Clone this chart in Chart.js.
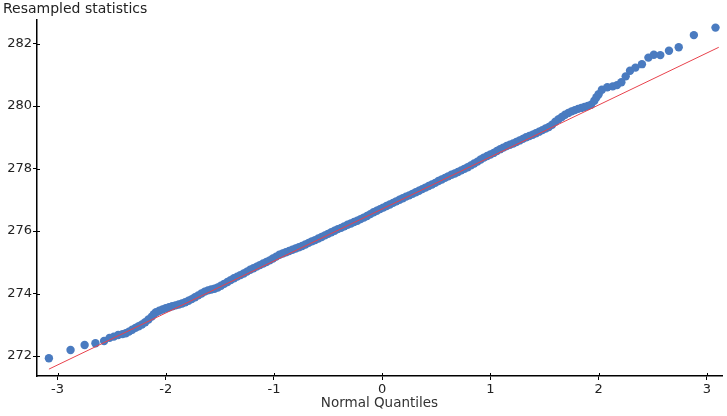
<!DOCTYPE html>
<html>
<head>
<meta charset="utf-8">
<script src="https://cdn.jsdelivr.net/npm/chart.js@4"></script>
<style>
  html, body { margin: 0; padding: 0; background: #fff; }
  canvas { display: block; }
</style>
</head>
<body>
<canvas id="qq" width="727" height="416"></canvas>
<script>
// cuantiles normales teóricos (eje x)
const quantiles = [
  -3.08, -2.88, -2.75, -2.65, -2.57, -2.52, -2.48, -2.44, -2.40, -2.37,
  -2.34, -2.31, -2.28, -2.25, -2.22, -2.19, -2.16, -2.13, -2.11, -2.09,
  -2.06, -2.03, -2.00, -1.97, -1.94, -1.91, -1.88, -1.85, -1.82, -1.79,
  -1.76, -1.73, -1.70, -1.67, -1.64, -1.61, -1.58, -1.55, -1.52, -1.49,
  -1.46, -1.43, -1.40, -1.37, -1.34, -1.31, -1.28, -1.25, -1.22, -1.19,
  -1.16, -1.13, -1.10, -1.07, -1.04, -1.01, -0.98, -0.95, -0.92, -0.89,
  -0.86, -0.83, -0.80, -0.77, -0.74, -0.71, -0.68, -0.65, -0.62, -0.59,
  -0.56, -0.53, -0.50, -0.47, -0.44, -0.41, -0.38, -0.35, -0.32, -0.29,
  -0.26, -0.23, -0.20, -0.17, -0.14, -0.11, -0.08, -0.05, -0.02, 0.01,
  0.04, 0.07, 0.10, 0.13, 0.16, 0.19, 0.22, 0.25, 0.28, 0.31,
  0.34, 0.37, 0.40, 0.43, 0.46, 0.49, 0.52, 0.55, 0.58, 0.61,
  0.64, 0.67, 0.70, 0.73, 0.76, 0.79, 0.82, 0.85, 0.88, 0.91,
  0.94, 0.97, 1.00, 1.03, 1.06, 1.09, 1.12, 1.15, 1.18, 1.21,
  1.24, 1.27, 1.30, 1.33, 1.36, 1.39, 1.42, 1.45, 1.48, 1.51,
  1.54, 1.57, 1.60, 1.63, 1.66, 1.69, 1.72, 1.75, 1.78, 1.81,
  1.84, 1.87, 1.90, 1.93, 1.96, 1.98, 2.00, 2.03, 2.08, 2.13,
  2.17, 2.21, 2.25, 2.29, 2.34, 2.40, 2.46, 2.51, 2.57, 2.65,
  2.74, 2.88, 3.08
];

// estadísticos remuestreados ordenados (eje y)
const resampled = [
  271.93, 272.19, 272.35, 272.41, 272.48, 272.58, 272.62, 272.67, 272.70, 272.73,
  272.78, 272.84, 272.90, 272.95, 273.01, 273.08, 273.17, 273.26, 273.34, 273.40,
  273.45, 273.49, 273.53, 273.56, 273.59, 273.62, 273.65, 273.68, 273.72, 273.77,
  273.82, 273.88, 273.94, 274.00, 274.06, 274.10, 274.13, 274.15, 274.19, 274.25,
  274.31, 274.37, 274.43, 274.49, 274.54, 274.59, 274.64, 274.70, 274.76, 274.81,
  274.86, 274.91, 274.96, 275.01, 275.06, 275.12, 275.18, 275.24, 275.28, 275.32,
  275.36, 275.40, 275.44, 275.48, 275.52, 275.57, 275.62, 275.67, 275.71, 275.76,
  275.81, 275.86, 275.91, 275.96, 276.01, 276.06, 276.10, 276.15, 276.20, 276.24,
  276.29, 276.33, 276.38, 276.43, 276.48, 276.54, 276.60, 276.65, 276.70, 276.75,
  276.80, 276.85, 276.90, 276.95, 277.00, 277.05, 277.10, 277.14, 277.19, 277.24,
  277.29, 277.34, 277.39, 277.44, 277.49, 277.54, 277.60, 277.65, 277.70, 277.75,
  277.80, 277.84, 277.89, 277.94, 277.99, 278.04, 278.10, 278.16, 278.22, 278.29,
  278.35, 278.40, 278.45, 278.50, 278.56, 278.62, 278.67, 278.72, 278.76, 278.80,
  278.85, 278.90, 278.95, 279.00, 279.04, 279.08, 279.13, 279.18, 279.23, 279.28,
  279.33, 279.40, 279.50, 279.58, 279.65, 279.72, 279.78, 279.83, 279.87, 279.91,
  279.94, 279.97, 280.00, 280.04, 280.17, 280.28, 280.38, 280.52, 280.60, 280.63,
  280.67, 280.76, 280.95, 281.13, 281.23, 281.34, 281.55, 281.64, 281.63, 281.77,
  281.88, 282.27, 282.51
];

// recta de referencia (extremos)
const fitX = [-3.08, 3.11];
const fitY = [271.58, 281.88];

// marcas de los ejes
const xTicks = [-3, -2, -1, 0, 1, 2, 3];
const yTicks = [272, 274, 276, 278, 280, 282];

const fuente = 'DejaVu Sans, Verdana, sans-serif';

const puntos = quantiles.map(function(q, i) {
    return { x: q, y: resampled[i] };
});
const recta = fitX.map(function(q, i) {
    return { x: q, y: fitY[i] };
});

// Pequeñas marcas hacia dentro del área, para que crucen el eje
const marcasInternas = {
    id: 'marcasInternas',
    afterDraw: function(chart) {
        const c = chart.ctx;
        const sx = chart.scales.x;
        const sy = chart.scales.y;
        c.save();
        c.strokeStyle = '#000';
        c.lineWidth = 1;
        c.beginPath();
        xTicks.forEach(function(v) {
            const px = Math.round(sx.getPixelForValue(v)) + 0.5;
            c.moveTo(px, sy.bottom);
            c.lineTo(px, sy.bottom - 3);
        });
        yTicks.forEach(function(v) {
            const py = Math.round(sy.getPixelForValue(v)) + 0.5;
            c.moveTo(sx.left, py);
            c.lineTo(sx.left + 3, py);
        });
        c.stroke();
        c.restore();
    }
};

const ctx = document.getElementById('qq').getContext('2d');
new Chart(ctx, {
    type: 'scatter',
    data: {
        datasets: [{
            label: 'Resampled statistics',
            data: puntos,
            backgroundColor: '#4a7bc0',
            borderWidth: 0,
            pointRadius: 4.2,
            order: 1
        }, {
            type: 'line',
            label: 'Reference',
            data: recta,
            borderColor: '#e8424c',
            borderWidth: 1,
            pointRadius: 0,
            fill: false,
            order: 0
        }]
    },
    plugins: [marcasInternas],
    options: {
        responsive: false,
        animation: false,
        devicePixelRatio: 1,
        layout: {
            padding: { left: 3, right: 5, top: 0, bottom: 0 }
        },
        plugins: {
            legend: { display: false },
            tooltip: { enabled: false },
            title: {
                display: true,
                text: 'Resampled statistics',
                align: 'start',
                color: '#222',
                font: { family: fuente, size: 14, weight: 'normal' },
                padding: { top: 1, bottom: 2 }
            }
        },
        scales: {
            x: {
                type: 'linear',
                min: -3.19,
                max: 3.14,
                afterBuildTicks: function(scale) {
                    scale.ticks = xTicks.map(function(v) { return { value: v }; });
                },
                afterFit: function(scale) { scale.height = 40; },
                grid: {
                    drawOnChartArea: false,
                    tickLength: 4,
                    color: '#000'
                },
                border: { color: '#000', width: 1.5 },
                ticks: {
                    color: '#222',
                    padding: 2,
                    maxRotation: 0,
                    font: { family: fuente, size: 13 }
                },
                title: {
                    display: true,
                    text: 'Normal Quantiles',
                    color: '#333',
                    font: { family: fuente, size: 13.5 },
                    padding: { top: 0, bottom: 4 }
                }
            },
            y: {
                type: 'linear',
                min: 271.36,
                max: 282.76,
                afterBuildTicks: function(scale) {
                    scale.ticks = yTicks.map(function(v) { return { value: v }; });
                },
                afterFit: function(scale) { scale.width = 34; },
                grid: {
                    drawOnChartArea: false,
                    tickLength: 4,
                    color: '#000'
                },
                border: { color: '#000', width: 1.5 },
                ticks: {
                    color: '#222',
                    padding: 1,
                    font: { family: fuente, size: 13 }
                }
            }
        }
    }
});
</script>
</body>
</html>
